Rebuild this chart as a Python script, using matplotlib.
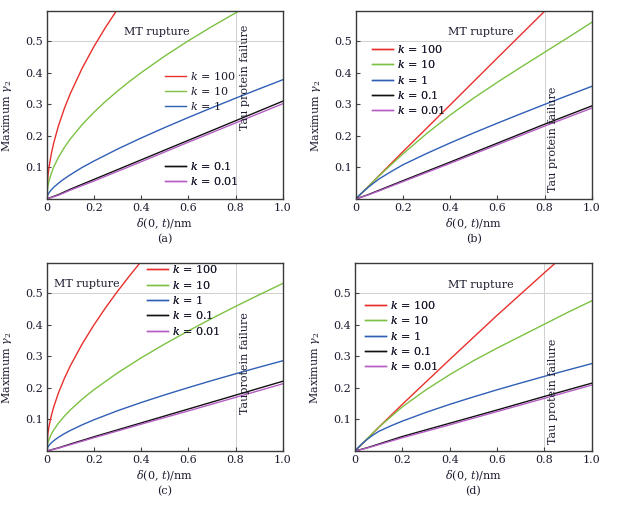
import matplotlib
matplotlib.use("Agg")
import matplotlib.pyplot as plt

plt.rcParams['font.family'] = ['DejaVu Serif']
plt.rcParams['mathtext.fontset'] = 'dejavuserif'

# ---------------- data ----------------
k_labels = [r'$k$ = 100', r'$k$ = 10', r'$k$ = 1', r'$k$ = 0.1', r'$k$ = 0.01']
colors = ['#e8302c', '#7cc142', '#2f5fb5', '#111111', '#b45ec4']

# common x sample positions
xs_full = [0, 0.005, 0.01, 0.02, 0.03, 0.05, 0.075, 0.1, 0.15, 0.2, 0.3, 0.4, 0.5, 0.6, 0.7, 0.8, 0.9, 1.0]
xs_lin = [0, 0.05, 0.1, 0.2, 0.4, 0.6, 0.8, 1.0]

# panel (a)
a_red_x = [0, 0.005, 0.01, 0.02, 0.03, 0.05, 0.075, 0.1, 0.15, 0.2, 0.25, 0.3]
a_red_y = [0, 0.0716, 0.1018, 0.145, 0.1786, 0.2326, 0.2874, 0.3342, 0.4143, 0.4832, 0.545, 0.6017]
a_grn_x = [0, 0.005, 0.01, 0.02, 0.03, 0.05, 0.075, 0.1, 0.15, 0.2, 0.25, 0.3, 0.35, 0.4, 0.5, 0.6, 0.7, 0.8, 0.85]
a_grn_y = [0, 0.0408, 0.058, 0.0826, 0.1017, 0.1325, 0.1636, 0.1902, 0.2358, 0.2749, 0.31, 0.3422,
           0.3722, 0.4005, 0.453, 0.5015, 0.5469, 0.5898, 0.6105]
a_blu_y = [0, 0.0138, 0.0201, 0.0295, 0.0373, 0.0503, 0.0643, 0.0769, 0.1, 0.1203, 0.1582, 0.1933,
           0.2265, 0.2584, 0.2893, 0.3195, 0.349, 0.378]
a_blk_y = [0, 0.014, 0.031, 0.062, 0.124, 0.186, 0.248, 0.31]
a_pur_y = [0, 0.012, 0.028, 0.057, 0.118, 0.18, 0.241, 0.302]

# panel (b)
b_red_x = [0, 0.05, 0.1, 0.2, 0.4, 0.6, 0.8, 0.82]
b_red_y = [0, 0.037, 0.075, 0.15, 0.298, 0.447, 0.595, 0.61]
b_grn_x = [0, 0.05, 0.1, 0.2, 0.3, 0.4, 0.5, 0.6, 0.7, 0.8, 0.9, 1.0]
b_grn_y = [0, 0.037, 0.074, 0.143, 0.207, 0.266, 0.32, 0.37, 0.418, 0.465, 0.512, 0.56]
b_blu_y = [0, 0.004, 0.0075, 0.015, 0.022, 0.035, 0.05, 0.064, 0.087, 0.1084, 0.1441, 0.1776,
           0.2095, 0.2403, 0.2703, 0.2997, 0.3286, 0.357]
b_blk_y = [0, 0.013, 0.028, 0.058, 0.117, 0.177, 0.237, 0.295]
b_pur_y = [0, 0.012, 0.026, 0.055, 0.113, 0.172, 0.231, 0.288]

# panel (c)
c_red_x = [0, 0.005, 0.01, 0.02, 0.03, 0.05, 0.075, 0.1, 0.15, 0.2, 0.25, 0.3, 0.35, 0.4]
c_red_y = [0, 0.0551, 0.0788, 0.1132, 0.1404, 0.1846, 0.2303, 0.27, 0.339, 0.3996, 0.4548, 0.5061, 0.5545, 0.6007]
c_grn_y = [0, 0.0261, 0.0374, 0.0538, 0.067, 0.0884, 0.1106, 0.1301, 0.1642, 0.1942, 0.2475, 0.2952,
           0.3392, 0.3808, 0.4204, 0.4584, 0.4952, 0.531]
c_blu_y = [0, 0.0125, 0.0181, 0.0262, 0.0327, 0.0436, 0.055, 0.0651, 0.0829, 0.0989, 0.1276, 0.1536,
           0.1779, 0.201, 0.2233, 0.2447, 0.2657, 0.286]
c_blk_y = [0, 0.01, 0.022, 0.045, 0.089, 0.133, 0.177, 0.221]
c_pur_y = [0, 0.009, 0.02, 0.042, 0.085, 0.127, 0.17, 0.213]

# panel (d)
d_red_x = [0, 0.05, 0.1, 0.2, 0.4, 0.6, 0.8, 0.86]
d_red_y = [0, 0.037, 0.075, 0.148, 0.29, 0.43, 0.565, 0.605]
d_grn_x = [0, 0.05, 0.1, 0.2, 0.3, 0.4, 0.5, 0.6, 0.7, 0.8, 0.9, 1.0]
d_grn_y = [0, 0.038, 0.075, 0.14, 0.194, 0.242, 0.286, 0.326, 0.364, 0.402, 0.44, 0.476]
d_blu_y = [0, 0.004, 0.008, 0.016, 0.023, 0.036, 0.05, 0.062, 0.0793, 0.0947, 0.1225, 0.1478,
           0.1714, 0.194, 0.2156, 0.2366, 0.257, 0.277]
d_blk_y = [0, 0.01, 0.022, 0.046, 0.088, 0.13, 0.173, 0.215]
d_pur_y = [0, 0.009, 0.02, 0.042, 0.083, 0.125, 0.167, 0.209]

x_ticks = [0, 0.2, 0.4, 0.6, 0.8, 1.0]
x_ticklabels = ['0', '0.2', '0.4', '0.6', '0.8', '1.0']
y_ticks = [0.1, 0.2, 0.3, 0.4, 0.5]
y_ticklabels = ['0.1', '0.2', '0.3', '0.4', '0.5']
captions = ['(a)', '(b)', '(c)', '(d)']
tau_texts = ['Tau protein failure', 'Tau protein failure', 'Tauprotein failure', 'Tau protein failure']

panels = [
    [(a_red_x, a_red_y), (a_grn_x, a_grn_y), (xs_full, a_blu_y), (xs_lin, a_blk_y), (xs_lin, a_pur_y)],
    [(b_red_x, b_red_y), (b_grn_x, b_grn_y), (xs_full, b_blu_y), (xs_lin, b_blk_y), (xs_lin, b_pur_y)],
    [(c_red_x, c_red_y), (xs_full, c_grn_y), (xs_full, c_blu_y), (xs_lin, c_blk_y), (xs_lin, c_pur_y)],
    [(d_red_x, d_red_y), (d_grn_x, d_grn_y), (xs_full, d_blu_y), (xs_lin, d_blk_y), (xs_lin, d_pur_y)],
]

# ---------------- layout ----------------
W, H = 639, 509
fig = plt.figure(figsize=(W / 100, H / 100), dpi=100)
boxes = [  # left, top, right, bottom in pixels
    (46.7, 10.7, 282.7, 199.0),
    (355.7, 10.7, 591.7, 199.0),
    (46.7, 262.7, 282.7, 451.0),
    (355.0, 262.7, 591.7, 451.0),
]
mt_pos = [(0.466, 0.528), (0.53, 0.528), (0.172, 0.53), (0.53, 0.527)]
tau_pos = [(0.84, 0.385), (0.835, 0.19), (0.84, 0.278), (0.835, 0.19)]
leg_specs = [
    [((0.50, 0.41), [0, 1, 2]), ((0.50, 0.125), [3, 4])],
    [((0.068, 0.495), [0, 1, 2, 3, 4])],
    [((0.425, 0.595), [0, 1, 2, 3, 4])],
    [((0.042, 0.482), [0, 1, 2, 3, 4])],
]

text_color = '#1c1c30'
fs = 8

for i, (l, t, r, b) in enumerate(boxes):
    ax = fig.add_axes([l / W, 1 - b / H, (r - l) / W, (b - t) / H])
    ax.set_xlim(0, 1.0)
    ax.set_ylim(0, 0.597)
    ax.axhline(0.5, color='#d0d0d0', lw=0.7, zorder=0)
    ax.axvline(0.8, color='#d0d0d0', lw=0.7, zorder=0)
    handles = []
    for (xs, ys), c, lab in zip(panels[i], colors, k_labels):
        h, = ax.plot(xs, ys, color=c, lw=1.0, label=lab)
        handles.append(h)
    ax.set_xticks(x_ticks)
    ax.set_xticklabels(x_ticklabels)
    ax.set_yticks(y_ticks)
    ax.set_yticklabels(y_ticklabels)
    ax.tick_params(direction='in', length=3, width=0.8, labelsize=fs,
                   labelcolor=text_color, color='#444444', pad=3)
    for s in ax.spines.values():
        s.set_color('#3a3a3a')
        s.set_linewidth(1.0)
    ax.set_xlabel(r'$\delta$(0, $t$)/nm', fontsize=fs, color=text_color, labelpad=2)
    ax.set_ylabel(r'Maximum $\gamma_2$', fontsize=fs, color=text_color, labelpad=3)
    ax.yaxis.set_label_coords(-0.14, 0.44)
    ax.text(mt_pos[i][0], mt_pos[i][1], 'MT rupture', fontsize=fs, color=text_color,
            ha='center', va='center')
    ax.text(tau_pos[i][0], tau_pos[i][1], tau_texts[i], fontsize=fs, color=text_color,
            ha='center', va='center', rotation=90)
    for (anchor, rows) in leg_specs[i]:
        leg = ax.legend([handles[j] for j in rows], [k_labels[j] for j in rows],
                        loc='upper left', bbox_to_anchor=anchor, bbox_transform=ax.transData,
                        frameon=False, fontsize=fs, handlelength=1.9, handletextpad=0.35,
                        labelspacing=0.3, borderpad=0, borderaxespad=0, labelcolor=text_color)
        ax.add_artist(leg)
    fig.text(((l + r) / 2) / W, 1 - (b + 40) / H, captions[i], fontsize=fs,
             color=text_color, ha='center', va='center')

fig.savefig('out.png', dpi=100)
